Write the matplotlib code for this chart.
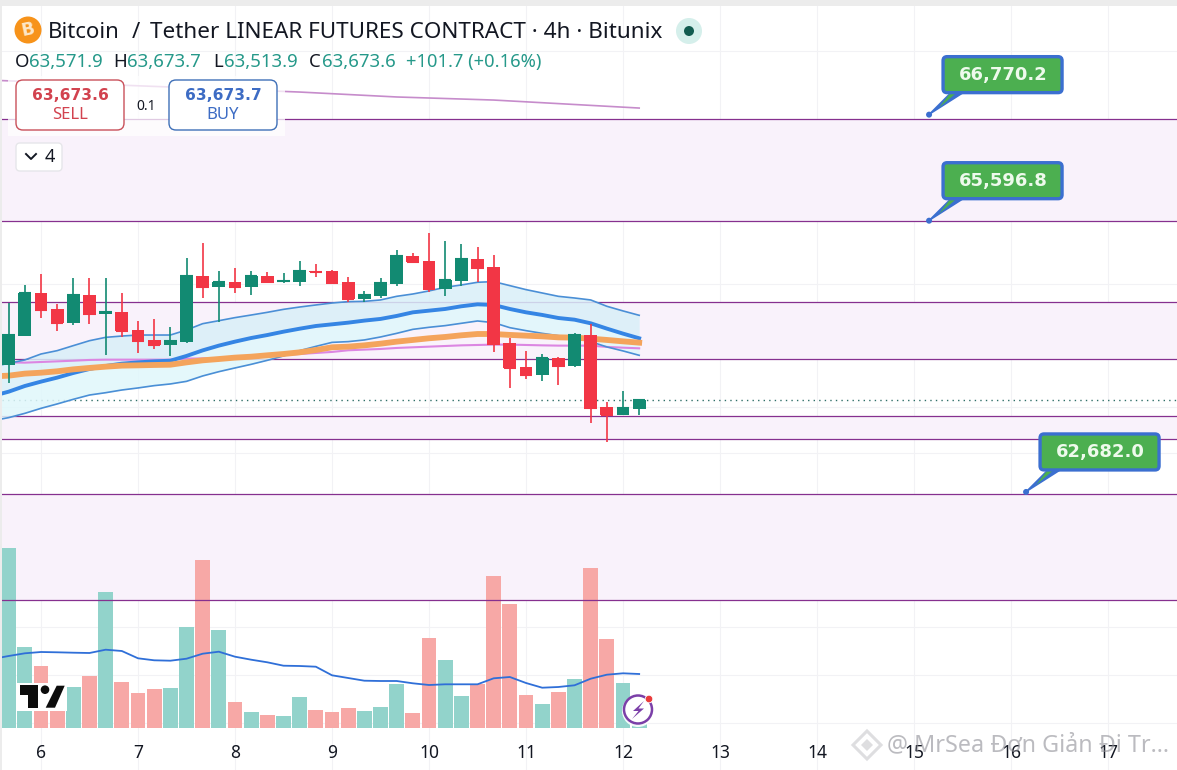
import numpy as np
import matplotlib
matplotlib.use('Agg')
import matplotlib.pyplot as plt
from matplotlib.patches import FancyBboxPatch, Circle, Polygon, Rectangle

plt.rcParams['font.family'] = ['Noto Sans', 'DejaVu Sans']

# 4h candles
opens = [64049,64364,64823,64651,64503,64801,64600,64618,64425,64314,
         64264,64299,65005,64890,64941,64890,65005,64941,64944,65062,
         65059,64941,64761,64790,64919,65220,65167,64869,64955,65188,
         65102,64282,64024,63944,64124,64041,64371,63597,63514,63571.9]
closes = [64371,64823,64643,64503,64801,64600,64622,64417,64310,64264,
          64307,65005,64890,64941,64890,65005,64944,64952,65059,65052,
          64933,64761,64801,64927,65220,65159,64869,64962,65188,65095,
          64278,64020,63944,64121,64041,64371,63590,63514,63583,63673.6]
highs = [64715,64909,65024,64704,64981,64987,64981,64826,64525,64546,
         64460,65202,65363,65062,65095,65062,65048,65041,65170,65138,
         65070,64998,64847,64987,65288,65253,65465,65385,65353,65317,
         65231,64342,64199,64164,64138,64390,64486,63648,63772,63673.7]
lows = [63858,64364,64554,64417,64479,64489,64159,64353,64175,64218,
        64149,64288,64772,64508,64820,64801,64933,64933,64901,64992,
        64919,64723,64726,64766,64901,65159,64837,64794,64901,64944,
        64192,63798,63898,63877,63834,64030,63428,63224,63514,63513.9]

# indicator values start one bar earlier, that bar is cut off at the left edge
band_upper = [64030,64067,64103,64167,64203,64257,64310,64346,64360,64371,64371,
              64371,64425,64493,64525,64558,64586,64615,64647,64672,64694,
              64715,64730,64733,64748,64787,64812,64845,64884,64909,64938,
              64945,64902,64859,64823,64787,64769,64748,64680,64630,64583]
band_mid = [63715,63762,63823,63870,63913,63963,64006,64038,64063,64077,64088,
            64095,64146,64206,64257,64300,64339,64371,64407,64439,64468,
            64486,64504,64526,64544,64576,64615,64633,64651,64680,64701,
            64694,64651,64615,64587,64554,64536,64497,64440,64386,64336]
band_lower = [63450,63483,63529,63583,63630,63680,63726,63751,63780,63802,63827,
              63845,63873,63931,63977,64017,64056,64099,64146,64203,64249,
              64292,64300,64318,64350,64389,64432,64454,64472,64497,64522,
              64504,64450,64418,64389,64364,64336,64300,64243,64200,64153]
ema_orange = [63927,63934,63956,63966,63981,64002,64017,64031,64042,64045,64049,
              64052,64077,64099,64113,64128,64138,64153,64167,64185,64210,
              64239,64246,64260,64278,64300,64318,64336,64350,64368,64382,
              64382,64372,64364,64357,64346,64343,64332,64318,64303,64289]
ema_magenta = [64077,64074,64081,64088,64095,64103,64106,64106,64106,64106,
               64106,64117,64120,64124,64135,64142,64146,64156,64167,64178,
               64189,64207,64214,64221,64232,64239,64246,64253,64260,64264,
               64268,64268,64264,64260,64257,64257,64257,64243,64235,64228]
long_idx = [-1,10,18,24,30,39]
long_ema = [67110,67037,66983,66930,66897,66811]

volumes = [18.0,8.1,6.2,3.9,4.1,5.2,13.6,4.6,3.5,3.9,
           4.0,10.1,16.8,9.8,2.6,1.6,1.3,1.2,3.1,1.8,
           1.6,2.0,1.7,2.1,4.4,1.5,9.0,6.8,3.2,4.4,
           15.2,12.4,3.3,2.4,3.6,4.9,16.0,8.9,4.5,0.4]
vol_ma = [6.9,7.2,7.47,7.6,7.57,7.53,7.5,7.83,7.7,6.97,6.77,
          6.73,6.93,7.43,7.63,7.13,6.83,6.57,6.23,6.2,6.13,
          5.27,5.0,4.73,4.7,4.7,4.47,4.3,4.37,4.37,4.37,
          4.97,5.1,4.5,4.03,4.1,4.27,4.93,5.33,5.47,5.4]

levels = [66693,65597,64726,64113,63500,63253,62662,61522]
grid_prices = [67424,66489,65694,64919,64210,63597,63103,62490,61866,61232,60716,60200]
last_price = 63672
days = [6,7,8,9,10,11,12,13,14,15,16,17]

callout_text = ['66,770.2','65,596.8','62,682.0']
callout_day = [15.155,15.155,16.155]
callout_price = [66740,65600,62684]

W, H = 1177, 770
xlim = (5.598, 17.711)
ylim = (59695, 67908)
rect = [2/W, 0, 1175/W, 764/H]

GREEN = '#128a72'
RED = '#f23645'
x = 5 + 2/3 + np.arange(len(opens))/6
xl = np.r_[x[0] - 1/6, x]   # for the lines with the extra first bar

fig = plt.figure(figsize=(W/100, H/100), dpi=100, facecolor='#ececec')

# background: pink zones, grid and date labels
bg = fig.add_axes(rect, facecolor='white', zorder=1)
bg.set_xlim(xlim); bg.set_ylim(ylim)
for a, b in zip(levels[0::2], levels[1::2]):
    bg.axhspan(b, a, color='#f9f2fb', lw=0)
bg.set_xticks(days)
bg.set_xticklabels([str(d) for d in days], fontsize=12.5, color='#131722')
bg.set_yticks(grid_prices)
bg.tick_params(axis='x', length=0, pad=-19)
bg.tick_params(axis='y', length=0, labelleft=False)
bg.grid(color='#f2f2f5', lw=0.8)
bg.set_axisbelow(True)
for s in bg.spines.values():
    s.set_visible(False)

# volume pane
vol = fig.add_axes(rect, facecolor='none', zorder=2)
vol.set_xlim(xlim); vol.set_ylim(-4.2, 72.2)
vol.axis('off')
up = np.array(closes) >= np.array(opens)
vol.bar(x, volumes, width=0.152, color=['#92d3cb' if u else '#f7a8a6' for u in up], lw=0)

# price pane
ax = fig.add_axes(rect, facecolor='none', zorder=3)
ax.set_xlim(xlim); ax.set_ylim(ylim)
ax.axis('off')
for lv in levels:
    ax.axhline(lv, color='#86308f', lw=0.9, zorder=1)
ax.axhline(last_price, color='#2f6f68', lw=1, ls=(0, (1, 3)), zorder=1)
ax.fill_between(xl, band_mid, band_upper, color='#d9eff8', lw=0, alpha=0.85, zorder=1.5)
ax.fill_between(xl, band_lower, band_mid, color='#e0f7fb', lw=0, alpha=0.85, zorder=1.5)
ax.plot(xl[np.array(long_idx)+1], long_ema, color='#c68ccb', lw=1.2, zorder=2)
ax.plot(x, ema_magenta, color='#dc86e2', lw=1.5, zorder=2)
ax.plot(xl, band_upper, color='#4a8fd6', lw=1.2, zorder=2)
ax.plot(xl, band_lower, color='#4a8fd6', lw=1.2, zorder=2)
ax.plot(xl, band_mid, color='#3585e4', lw=2.8, zorder=2.1)
ax.plot(xl, ema_orange, color='#f4a45c', lw=4.2, zorder=2.2)

colors = [GREEN if u else RED for u in up]
ax.vlines(x, lows, highs, colors=colors, lw=1.2, zorder=3)
ax.bar(x, np.abs(np.array(closes)-np.array(opens)), bottom=np.minimum(opens, closes),
       width=0.131, color=colors, lw=0, zorder=3.1)
# thin bodies still show as a dash
ax.hlines(closes, x-0.065, x+0.065, colors=colors, lw=1.5, zorder=3.1)

# volume average goes over the bars
vol.plot(xl, vol_ma, color='#2f6fd8', lw=1.3, zorder=3)

# chart furniture in picture pixels
ui = fig.add_axes([0, 0, 1, 1], facecolor='none', zorder=5)
ui.set_xlim(0, W); ui.set_ylim(H, 0)
ui.axis('off')

def to_px(day, price):
    px = 2 + (day - xlim[0])/(xlim[1] - xlim[0])*1175
    py = 6 + (ylim[1] - price)/(ylim[1] - ylim[0])*764
    return px, py

def rbox(x0, y0, x1, y1, fc, ec, lw=1.0, r=5, z=6):
    ui.add_patch(FancyBboxPatch((x0+r, y0+r), x1-x0-2*r, y1-y0-2*r,
                                boxstyle='round,pad=%f,rounding_size=%f' % (r, r),
                                fc=fc, ec=ec, lw=lw, zorder=z))

for txt, d, p in zip(callout_text, callout_day, callout_price):
    px, py = to_px(d, p)
    bx, by = px + 14, py - 58
    ui.add_patch(Polygon([(px+1, py-1), (bx+8, by+36), (bx+20, by+36)],
                         fc='#3b6fd0', ec='#3b6fd0', lw=1.2, zorder=6))
    ui.add_patch(Polygon([(px+10, py-7), (bx+9, by+34), (bx+16, by+34)],
                         fc='#4caf50', ec='none', zorder=6))
    rbox(bx, by, bx+119, by+36, '#4caf50', '#3b6fd0', lw=2.4, r=4, z=6.5)
    ui.text(bx+60, by+18, txt, color='#eefaec', fontsize=13, fontweight='bold',
            family='DejaVu Sans', ha='center', va='center', zorder=7)
    ui.add_patch(Circle((px, py), 3, fc='#3b6fd0', ec='none', zorder=7))

# header
ui.add_patch(Circle((28, 30), 13.5, fc='#f7931a', ec='none', zorder=6))
ui.text(28, 30, 'B', color='#fde7c8', fontsize=12.5, fontweight='bold', rotation=12,
        family='DejaVu Sans', ha='center', va='center', zorder=7)
ui.text(48, 32, 'Bitcoin', fontsize=16, color='#131722', va='center', ha='left', zorder=7)
ui.text(132, 32, '/', fontsize=16, color='#131722', va='center', ha='left', zorder=7)
ui.text(150, 32, 'Tether LINEAR FUTURES CONTRACT \u00b7 4h \u00b7 Bitunix',
        fontsize=16.2, color='#131722', va='center', ha='left', zorder=7)
ui.add_patch(Circle((689, 31), 13, fc='#d5efeb', ec='none', zorder=6))
ui.add_patch(Circle((689, 31), 5, fc='#125c50', ec='none', zorder=7))

TEAL = '#26998a'
for lab, lx, val, vx in [('O', 15, '63,571.9', 29), ('H', 113, '63,673.7', 127),
                         ('L', 213, '63,513.9', 224), ('C', 309, '63,673.6', 322)]:
    ui.text(lx, 62, lab, fontsize=13.4, color='#131722', va='center', zorder=7)
    ui.text(vx, 62, val, fontsize=13.4, color=TEAL, va='center', zorder=7)
ui.text(406, 62, '+101.7 (+0.16%)', fontsize=13.2, color=TEAL, va='center', zorder=7)

# buy / sell panel
ui.add_patch(Rectangle((8, 76), 277, 60, fc='white', ec='none', alpha=0.75, zorder=5.5))
rbox(16, 80, 124, 130, 'white', '#c9505a', lw=1, r=7)
rbox(169, 80, 277, 130, 'white', '#3f70b8', lw=1, r=7)
ui.text(70, 95, '63,673.6', color='#d2434f', fontsize=11.2, fontweight='bold',
        family='DejaVu Sans', ha='center', va='center', zorder=7)
ui.text(70, 115, 'SELL', color='#d2434f', fontsize=12, ha='center', va='center', zorder=7)
ui.text(146, 106, '0.1', color='#131722', fontsize=10, ha='center', va='center', zorder=7)
ui.text(223, 95, '63,673.7', color='#3d6cc4', fontsize=11.2, fontweight='bold',
        family='DejaVu Sans', ha='center', va='center', zorder=7)
ui.text(223, 115, 'BUY', color='#3d6cc4', fontsize=12, ha='center', va='center', zorder=7)

rbox(16, 143, 62, 171, 'white', '#e6e6ea', lw=1, r=4)
ui.plot([26, 31, 36], [154, 159, 154], color='#131722', lw=1.4, zorder=7)
ui.text(50, 157, '4', color='#131722', fontsize=13, ha='center', va='center', zorder=7)

# tradingview mark
ui.add_patch(Rectangle((17, 683), 50, 28, fc='white', ec='none', zorder=6))
ui.add_patch(Polygon([(20, 685.3), (37.7, 685.3), (37.7, 707.7), (28.3, 707.7), (28.3, 695), (20, 695)],
                     fc='#0c0c0c', ec='none', zorder=7))
ui.add_patch(Circle((45, 689.7), 4.3, fc='#0c0c0c', ec='none', zorder=7))
ui.add_patch(Polygon([(56.7, 685.7), (64.7, 685.7), (55, 707.7), (45.7, 707.7)],
                     fc='#0c0c0c', ec='none', zorder=7))

# bolt badge
ui.add_patch(Circle((638, 711), 16, fc='white', ec='none', alpha=0.9, zorder=6))
ui.add_patch(Circle((638, 709.5), 14, fc='white', ec='#7b3fa8', lw=1.8, zorder=6.5))
ui.add_patch(Polygon([(644, 701), (633, 711), (638.5, 711), (632, 719), (644, 708.5), (638.5, 708.5)],
                     fc='#7b3fa8', ec='none', zorder=7))
ui.add_patch(Circle((649, 699), 3.8, fc='#ea3b3b', ec='white', lw=0.6, zorder=7))

# watermark
ui.add_patch(Polygon([(867, 731), (881, 745), (867, 759), (853, 745)],
                     fc='none', ec='#c4c4c8', lw=2.2, alpha=0.55, zorder=7))
ui.add_patch(Polygon([(867, 739), (873, 745), (867, 751), (861, 745)],
                     fc='#c4c4c8', ec='none', alpha=0.55, zorder=7))
ui.text(887, 745, '@ MrSea \u0110\u01a1n Gi\u1ea3n \u0110i Tr...', fontsize=16.8,
        color='#8f8f96', alpha=0.6, va='center', ha='left', zorder=7)

fig.savefig('out.png', dpi=100, facecolor=fig.get_facecolor())
